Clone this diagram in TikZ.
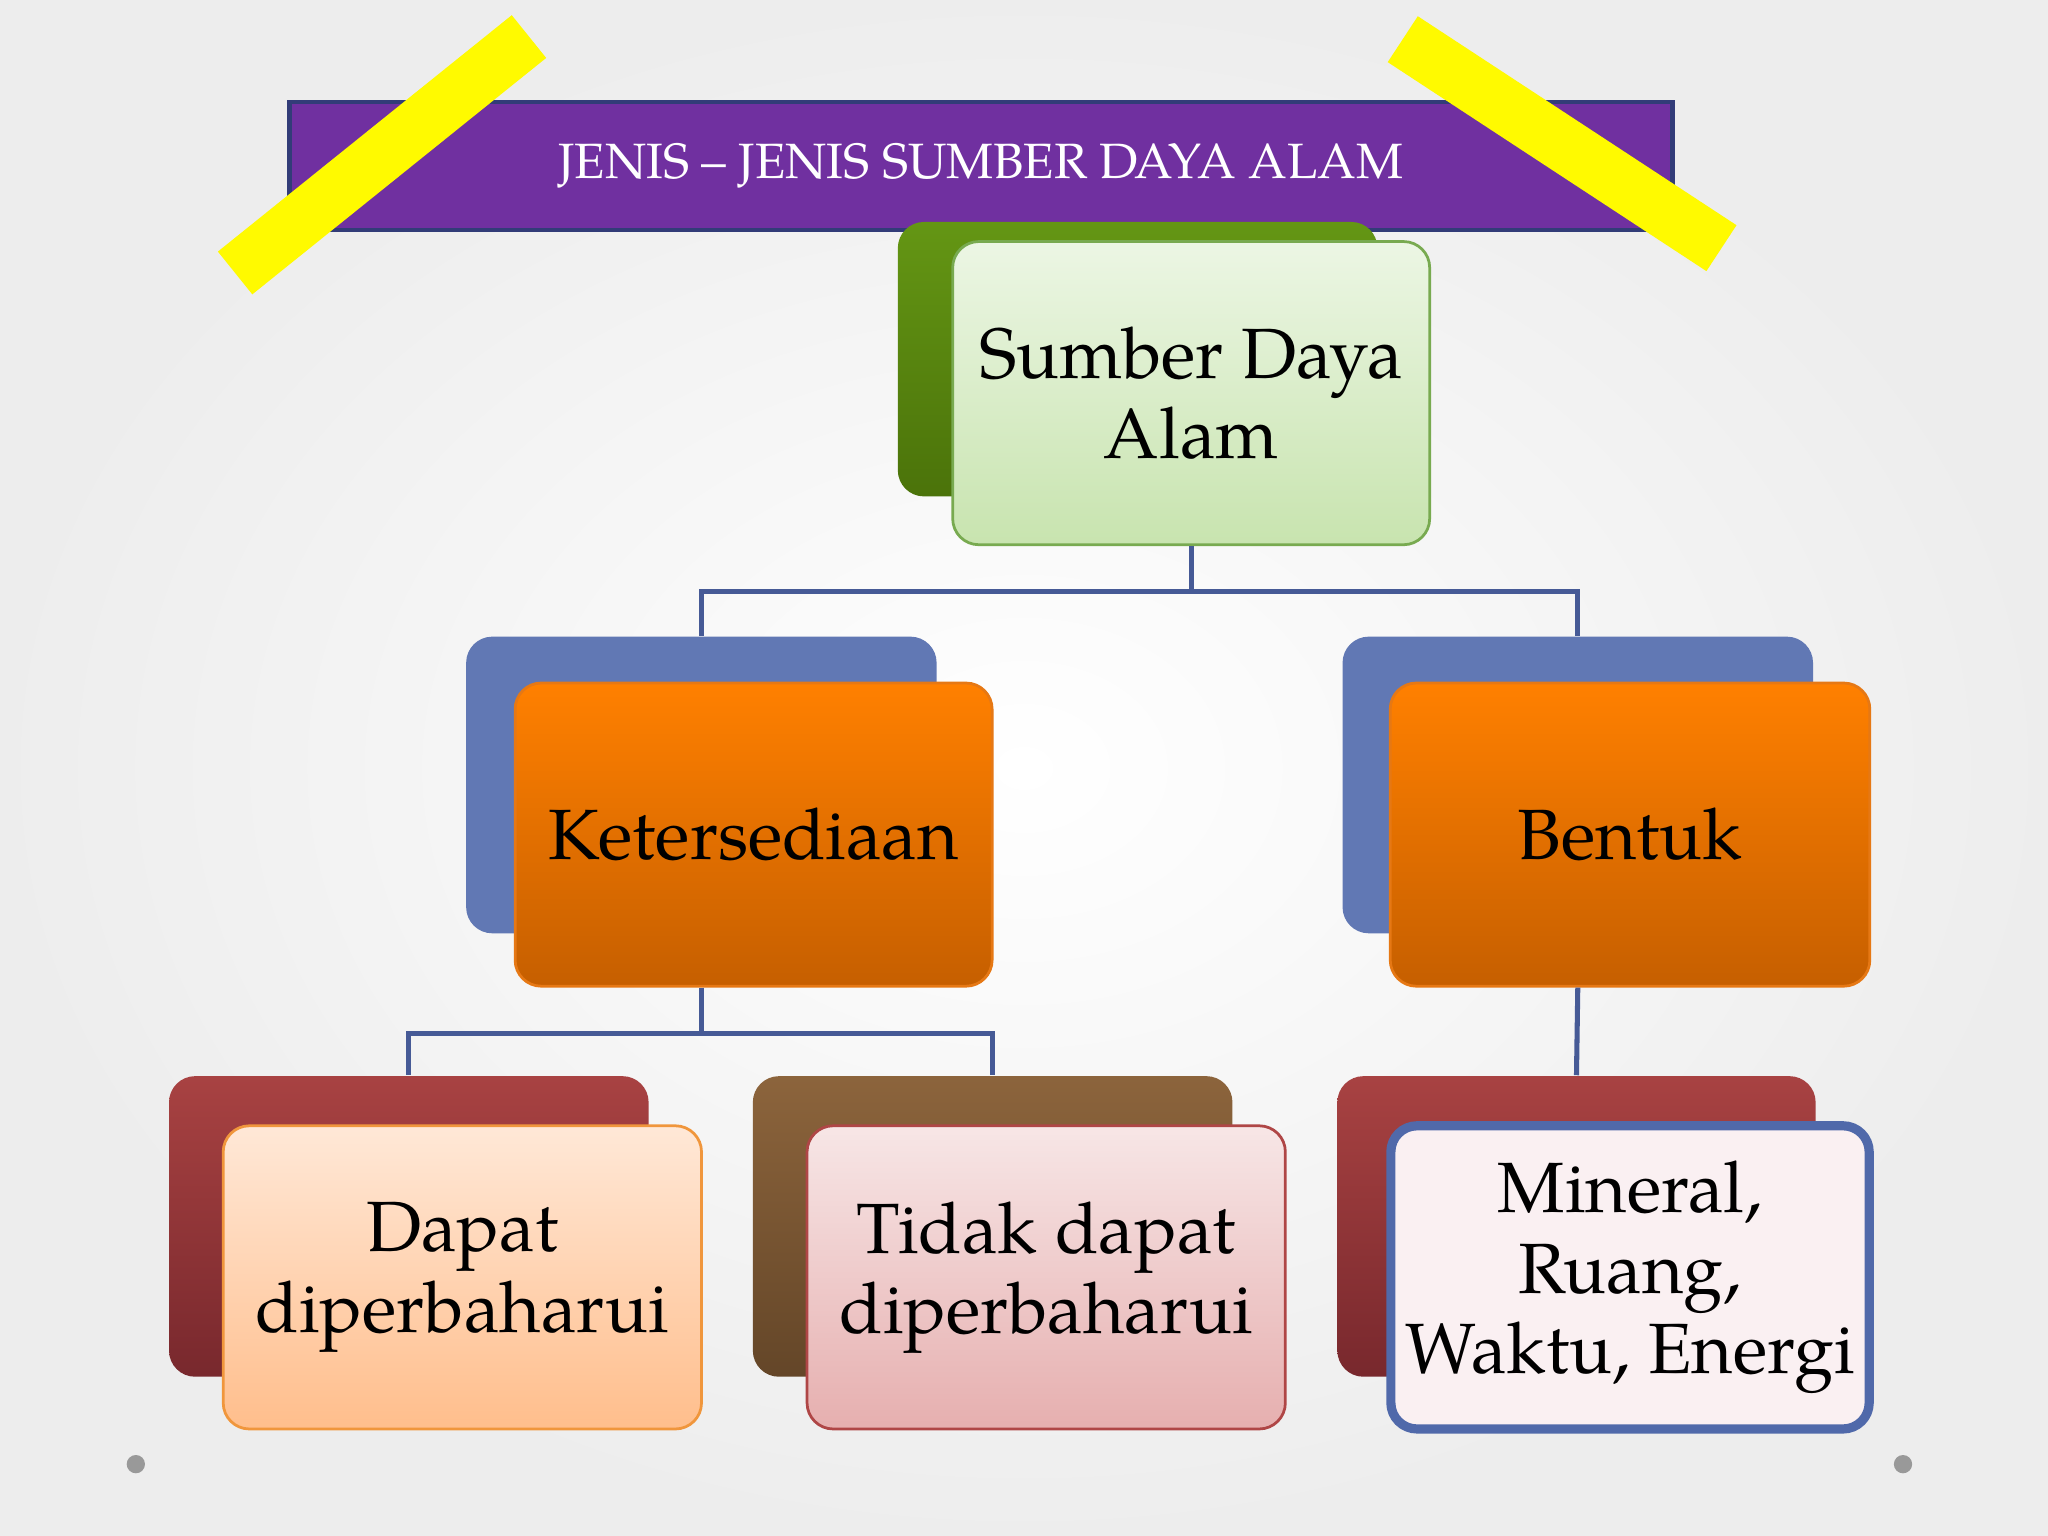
\documentclass[tikz,border=0pt]{standalone}
\usepackage{fontspec}
\setmainfont{TeX Gyre Pagella}[Extension=.otf,UprightFont=texgyrepagella-regular]
\begin{document}
\begin{tikzpicture}[x=0.01cm,y=-0.01cm,
  back/.style={rounded corners=0.2cm,inner sep=0pt,minimum width=3.65cm,minimum height=2.3cm},
  front/.style={rounded corners=0.2cm,inner sep=0pt,minimum width=3.66cm,minimum height=2.32cm,align=center,font=\fontsize{15.5}{17.5}\selectfont,line width=0.6pt},
  conn/.style={draw={rgb,255:red,70;green,90;blue,150},line width=1.1pt},
  tape/.style={line width=0.42cm,draw={rgb,255:red,255;green,250;blue,0}}]
\useasboundingbox (0,0) rectangle (1568,1176);
\shade[inner color=white,outer color=gray!14] (0,0) rectangle (1568,1176);
% banner
\node[fill={rgb,255:red,112;green,48;blue,160},draw={rgb,255:red,50;green,60;blue,120},line width=1pt,minimum width=10.58cm,minimum height=0.98cm,inner sep=0pt,text=white,font=\fontsize{10.8}{12}\selectfont] (title) at (751,127) {JENIS -- JENIS SUMBER DAYA ALAM};
\draw[tape] (180,209) -- (405,28);
\draw[tape] (1074,30) -- (1318,190);
% top
\node[back,minimum width=3.67cm,minimum height=2.1cm,top color={rgb,255:red,100;green,150;blue,20},bottom color={rgb,255:red,75;green,115;blue,10}] (sb) at (871,275) {};
\node[front,minimum width=3.65cm,top color={rgb,255:red,236;green,246;blue,228},bottom color={rgb,255:red,200;green,228;blue,175},draw={rgb,255:red,120;green,170;blue,80}] (sda) at (912,301) {Sumber Daya\\Alam};
% level 2
\node[back,minimum width=3.6cm,minimum height=2.27cm,fill={rgb,255:red,97;green,120;blue,180}] (kb) at (537,601) {};
\node[front,minimum width=3.65cm,top color={rgb,255:red,255;green,128;blue,0},bottom color={rgb,255:red,198;green,95;blue,0},draw={rgb,255:red,230;green,120;blue,20}] (kf) at (577,639) {Ketersediaan};
\node[back,minimum width=3.6cm,minimum height=2.27cm,fill={rgb,255:red,97;green,120;blue,180}] (bb) at (1208,601) {};
\node[front,minimum width=3.67cm,top color={rgb,255:red,255;green,128;blue,0},bottom color={rgb,255:red,198;green,95;blue,0},draw={rgb,255:red,230;green,120;blue,20}] (bf) at (1248,639) {Bentuk};
% level 3
\node[back,minimum width=3.67cm,top color={rgb,255:red,168;green,66;blue,66},bottom color={rgb,255:red,120;green,40;blue,45}] (db) at (313,939) {};
\node[front,top color={rgb,255:red,255;green,232;blue,215},bottom color={rgb,255:red,255;green,190;blue,140},draw={rgb,255:red,240;green,150;blue,60}] (df) at (354,978) {Dapat\\diperbaharui};
\node[back,minimum width=3.67cm,top color={rgb,255:red,140;green,100;blue,60},bottom color={rgb,255:red,100;green,70;blue,40}] (tb) at (760,939) {};
\node[front,top color={rgb,255:red,247;green,230;blue,230},bottom color={rgb,255:red,230;green,175;blue,175},draw={rgb,255:red,175;green,70;blue,70}] (tf) at (801,978) {Tidak dapat\\diperbaharui};
\node[back,minimum width=3.66cm,top color={rgb,255:red,168;green,66;blue,66},bottom color={rgb,255:red,120;green,40;blue,45}] (mb) at (1207,939) {};
\node[front,fill={rgb,255:red,250;green,240;blue,242},draw={rgb,255:red,80;green,105;blue,170},line width=2pt] (mf) at (1248,978) {Mineral,\\Ruang,\\Waktu, Energi};
% connectors
\draw[conn] (sda.south) -- ++(0,35) coordinate (j1) -| (kb.north);
\draw[conn] (j1) -| (bb.north);
\draw[conn] (kb.north|-kf.south) -- ++(0,35) coordinate (j2) -| (db.north);
\draw[conn] (j2) -| (tb.north);
\draw[conn] (bb.north|-bf.south) -- (mb.north);
% dots
\fill[gray!80] (104,1121) circle (0.07cm) coordinate (d1);
\fill[gray!80] (1457,1121) circle (0.07cm) coordinate (d2);
\end{tikzpicture}
\end{document}
